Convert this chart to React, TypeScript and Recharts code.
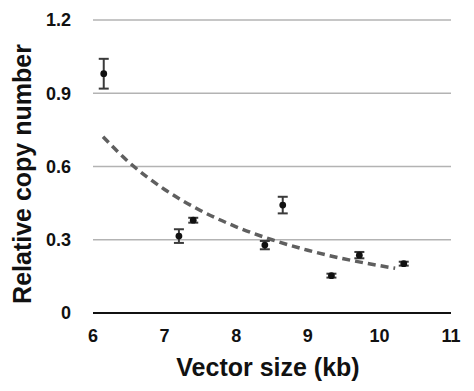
import React from 'react';
import {
  ComposedChart,
  Scatter,
  Line,
  XAxis,
  YAxis,
  CartesianGrid,
  ErrorBar,
  Label,
} from 'recharts';

// measured points (vector size kb, relative copy number, error)
const sizes = [6.15, 7.2, 7.4, 8.4, 8.65, 9.33, 9.72, 10.34];
const copyNumbers = [0.98, 0.315, 0.38, 0.278, 0.442, 0.153, 0.237, 0.202];
const errors = [0.061, 0.028, 0.01, 0.017, 0.034, 0.008, 0.013, 0.008];

// dashed trendline
const trendX = [6.14, 6.5, 7, 7.5, 8, 8.5, 9, 9.5, 10, 10.22];
const trendY = [0.722, 0.618, 0.506, 0.42, 0.353, 0.3, 0.257, 0.222, 0.194, 0.183];

const xTicks = [6, 7, 8, 9, 10, 11];
const yTicks = [0, 0.3, 0.6, 0.9, 1.2];

const points = sizes.map((x, i) => ({ x, y: copyNumbers[i], err: errors[i] }));
const trend = trendX.map((x, i) => ({ x, y: trendY[i] }));

const FONT = '"Liberation Sans", Arial, Helvetica, sans-serif';

export default function App() {
  return (
    <div style={{ fontFamily: FONT }}>
      <ComposedChart
        width={466}
        height={383}
        margin={{ top: 12, right: 23, left: 0, bottom: 0 }}
      >
        <CartesianGrid vertical={false} stroke="#b3b3b3" strokeWidth={1.5} />
        <XAxis
          type="number"
          dataKey="x"
          domain={[6, 11]}
          ticks={xTicks}
          height={78}
          tickLine={false}
          tickMargin={10}
          axisLine={{ stroke: '#111', strokeWidth: 2 }}
          tick={{ fill: '#111', fontSize: 18, fontWeight: 'bold', fontFamily: FONT }}
        >
          <Label
            content={({ viewBox }: any) => (
              <text
                x={viewBox.x + viewBox.width / 2 - 4}
                y={viewBox.y + 63}
                textAnchor="middle"
                fill="#111"
                fontSize={25}
                fontWeight="bold"
                fontFamily={FONT}
              >
                Vector size (kb)
              </text>
            )}
          />
        </XAxis>
        <YAxis
          type="number"
          domain={[0, 1.2]}
          ticks={yTicks}
          width={85}
          tickLine={false}
          axisLine={false}
          tickMargin={16}
          tick={{ fill: '#111', fontSize: 18, fontWeight: 'bold', fontFamily: FONT }}
        >
          <Label
            content={() => (
              <text
                x={14}
                y={166}
                transform="rotate(-90 14 166)"
                textAnchor="middle"
                dominantBaseline="central"
                fill="#111"
                fontSize={25}
                fontWeight="bold"
                fontFamily={FONT}
              >
                Relative copy number
              </text>
            )}
          />
        </YAxis>
        <Line
          data={trend}
          dataKey="y"
          type="monotone"
          stroke="#5f5f5f"
          strokeWidth={3.5}
          strokeDasharray="8 5"
          dot={false}
          activeDot={false}
          isAnimationActive={false}
        />
        <Scatter
          data={points}
          dataKey="y"
          fill="#111"
          shape={(p: any) => <circle cx={p.cx} cy={p.cy} r={3.4} fill="#111" />}
          isAnimationActive={false}
        >
          <ErrorBar
            dataKey="err"
            direction="y"
            width={5}
            stroke="#3a3a3a"
            strokeWidth={2}
            isAnimationActive={false}
          />
        </Scatter>
      </ComposedChart>
    </div>
  );
}
